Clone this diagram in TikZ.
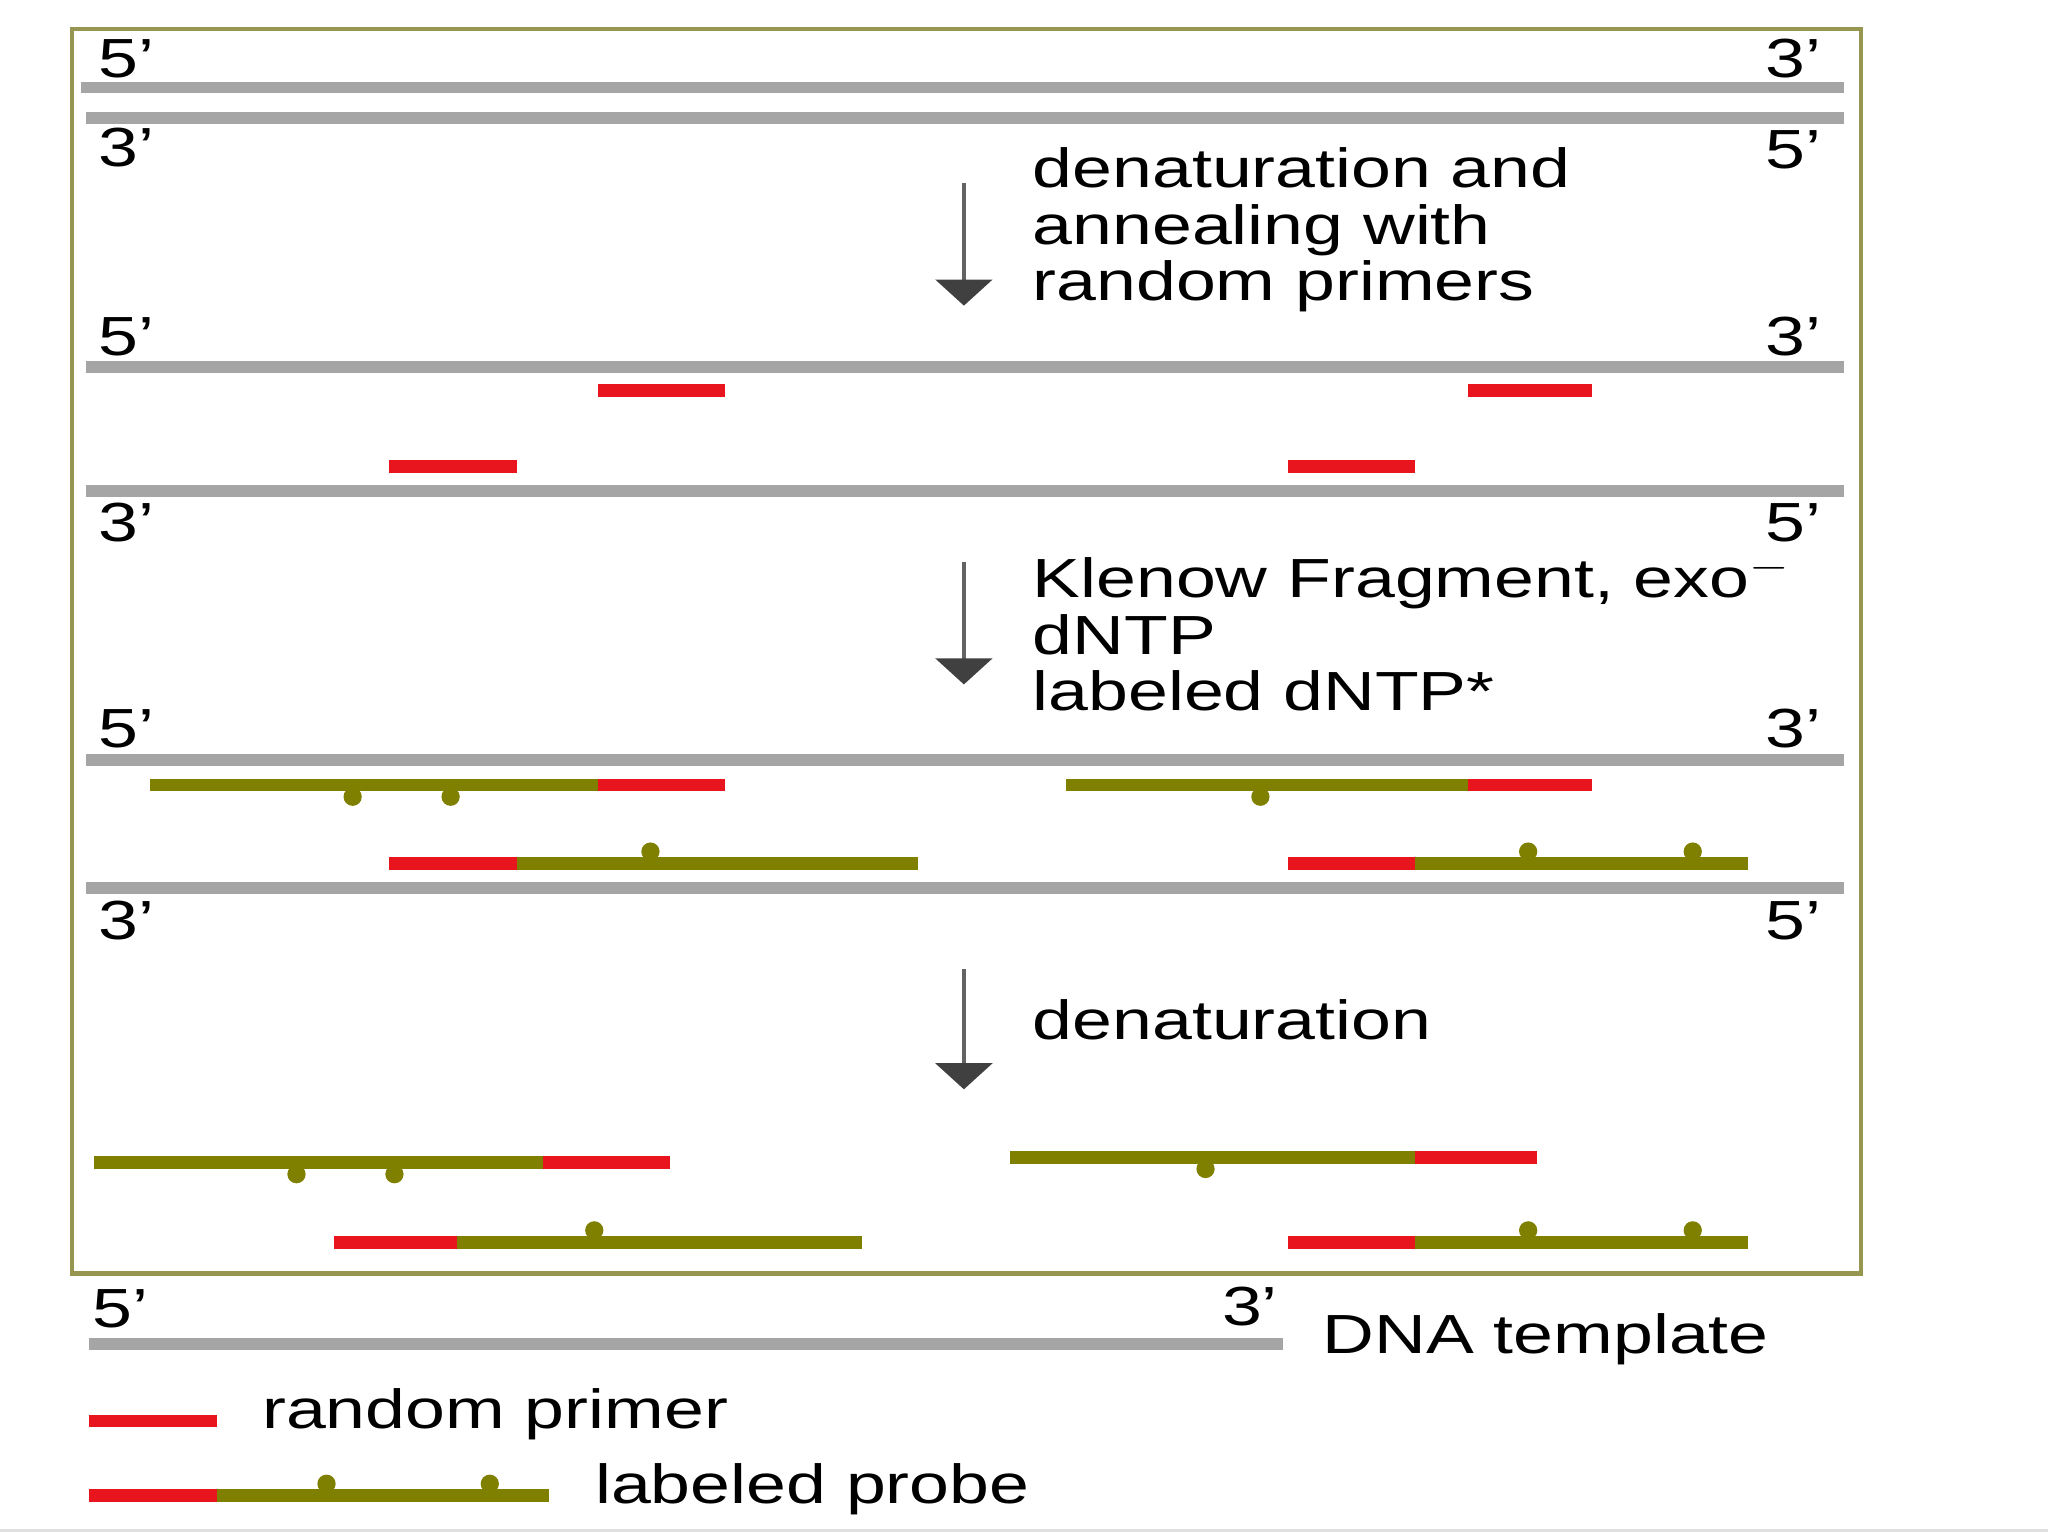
\documentclass[tikz,border=0pt]{standalone}
\usepackage{fontspec}
\setmainfont{Liberation Sans}
\usepackage{graphicx}
\definecolor{olv}{RGB}{128,128,0}
\definecolor{rd}{RGB}{232,20,30}
\definecolor{gr}{RGB}{165,165,165}
\definecolor{frm}{RGB}{150,150,80}
\newcommand{\wt}[1]{\scalebox{1.3}[1]{#1}}
\newcommand{\knobdn}[2]{\fill[olv] (#1,#2+1) circle (7); \fill[olv] (#1-4,#2-6) rectangle (#1+4,#2+1);}
\newcommand{\knobup}[2]{\fill[olv] (#1,#2-1) circle (7); \fill[olv] (#1-4,#2-1) rectangle (#1+4,#2+6);}
\newcommand{\darr}[3]{\draw[gr!60!black,line width=0.9pt] (#1,#2) -- (#1,#3-10); \fill[black!75] (#1-22,#3-20) -- (#1+22,#3-20) -- (#1,#3) -- cycle;}
\begin{document}
\begin{tikzpicture}[x=0.01cm,y=-0.01cm,
  lbl/.style={font=\fontsize{12}{12.3}\selectfont,inner sep=0},
  strand/.style={gr,line width=2.6pt},
  prim/.style={rd,line width=2.8pt},
  prb/.style={olv,line width=2.8pt}]
\useasboundingbox (0,0) rectangle (1568,1176);
\draw[frm,line width=0.9pt] (55,22) rectangle (1425,975);
\draw[black!12,line width=0.6pt] (0,1172) -- (1568,1172);
% section 1
\node[lbl,anchor=west] (a1) at (75,45) {\wt{5'}};
\node[lbl,anchor=east] (a2) at (1395,45) {\wt{3'}};
\draw[strand] (62,67) -- (1412,67);
\draw[strand] (66,90) -- (1412,90);
\node[lbl,anchor=west] (a3) at (75,113) {\wt{3'}};
\node[lbl,anchor=east] (a4) at (1395,115) {\wt{5'}};
\darr{738}{140}{234}
\node[lbl,anchor=west,align=left] (t1) at (790,176) {\wt{denaturation and}\\\wt{annealing with}\\\wt{random primers}};
% section 2
\node[lbl,anchor=west] at (75,258) {\wt{5'}};
\node[lbl,anchor=east] at (1395,258) {\wt{3'}};
\draw[strand] (66,281) -- (1412,281);
\draw[prim] (458,299) -- (555,299);
\draw[prim] (1124,299) -- (1219,299);
\draw[prim] (298,357) -- (396,357);
\draw[prim] (986,357) -- (1083,357);
\draw[strand] (66,376) -- (1412,376);
\node[lbl,anchor=west] at (75,400) {\wt{3'}};
\node[lbl,anchor=east] at (1395,400) {\wt{5'}};
\darr{738}{430}{524}
\node[lbl,anchor=west,align=left] (t2) at (790,485) {\wt{Klenow Fragment, exo$^{-}$}\\\wt{dNTP}\\\wt{labeled dNTP*}};
% section 3
\node[lbl,anchor=west] at (75,558) {\wt{5'}};
\node[lbl,anchor=east] at (1395,558) {\wt{3'}};
\draw[strand] (66,582) -- (1412,582);
\draw[prb] (115,601) -- (458,601); \draw[prim] (458,601) -- (555,601);
\knobdn{270}{609} \knobdn{345}{609}
\draw[prb] (816,601) -- (1124,601); \draw[prim] (1124,601) -- (1219,601);
\knobdn{965}{609}
\draw[prim] (298,661) -- (396,661); \draw[prb] (396,661) -- (703,661);
\knobup{498}{653}
\draw[prim] (986,661) -- (1083,661); \draw[prb] (1083,661) -- (1338,661);
\knobup{1170}{653} \knobup{1296}{653}
\draw[strand] (66,680) -- (1412,680);
\node[lbl,anchor=west] at (75,705) {\wt{3'}};
\node[lbl,anchor=east] at (1395,705) {\wt{5'}};
\darr{738}{742}{834}
\node[lbl,anchor=west] (t3) at (790,781) {\wt{denaturation}};
% section 4
\draw[prb] (72,890) -- (416,890); \draw[prim] (416,890) -- (513,890);
\knobdn{227}{898} \knobdn{302}{898}
\draw[prb] (773,886) -- (1083,886); \draw[prim] (1083,886) -- (1177,886);
\knobdn{923}{894}
\draw[prim] (256,951) -- (350,951); \draw[prb] (350,951) -- (660,951);
\knobup{455}{943}
\draw[prim] (986,951) -- (1083,951); \draw[prb] (1083,951) -- (1338,951);
\knobup{1170}{943} \knobup{1296}{943}
% legend
\node[lbl,anchor=west] at (70,1002) {\wt{5'}};
\node[lbl,anchor=west] at (935,1000) {\wt{3'}};
\draw[strand] (68,1029) -- (982,1029);
\node[lbl,anchor=west] (l1) at (1012,1025) {\wt{DNA template}};
\draw[prim] (68,1088) -- (166,1088);
\node[lbl,anchor=west] (l2) at (200,1083) {\wt{random primer}};
\draw[prim] (68,1145) -- (166,1145); \draw[prb] (166,1145) -- (420,1145);
\knobup{250}{1137} \knobup{375}{1137}
\node[lbl,anchor=west] (l3) at (455,1140) {\wt{labeled probe}};
\end{tikzpicture}
\end{document}
